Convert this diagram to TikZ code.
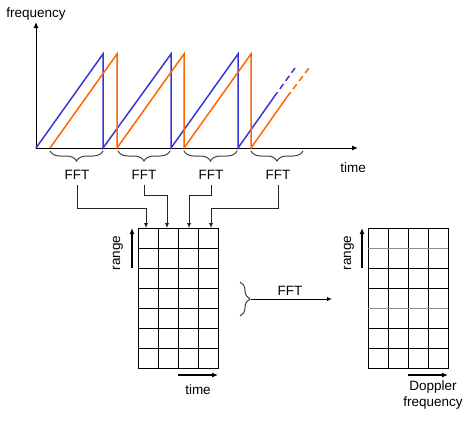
\documentclass[tikz,border=0pt]{standalone}
\usepackage{fontspec}
\setmainfont{Liberation Sans}
\usetikzlibrary{arrows.meta,decorations.pathreplacing}
\definecolor{chirpblue}{RGB}{55,55,215}
\definecolor{chirporange}{RGB}{255,102,0}
\tikzset{
  lbl/.style={font=\fontsize{13.5}{15}\selectfont, inner sep=0pt},
  axisline/.style={line width=1pt, -{Latex[length=6pt,width=5pt]}},
  blueline/.style={chirpblue, line width=1.5pt},
  orangeline/.style={chirporange, line width=1.5pt},
  brc/.style={black!75, line width=1pt, decoration={brace, amplitude=10pt, raise=0pt}, decorate},
  conn/.style={black!85, line width=0.9pt, -{Latex[length=5pt,width=4.5pt]}},
  gridline/.style={line width=1pt},
  dirarrow/.style={line width=1.2pt, -{Latex[length=6pt,width=5pt]}}
}
\begin{document}
\begin{tikzpicture}[x=1pt,y=-1pt]
\useasboundingbox (0,0) rectangle (470,423);
% axes
\coordinate (o) at (36,148);
\draw[axisline] (o) -- (36,22);
\draw[axisline] (o) -- (358,148);
\node[lbl] (flab) at (36,14) {frequency};
\node[lbl] (tlab) at (353,168) {time};
% chirps blue
\draw[blueline] (36,148) -- (103,54) -- (103,148) -- (171,54) -- (171,148) -- (238,54) -- (238,148) -- (274,97);
\draw[blueline, dash pattern=on 6pt off 4pt] (274,97) -- (295,68);
% chirps orange
\draw[orangeline] (50,148) -- (117,54) -- (117,148) -- (184,54) -- (184,148) -- (251,54) -- (251,148) -- (287,97);
\draw[orangeline, dash pattern=on 6pt off 4pt] (287,97) -- (309,68);
% braces
\draw[brc] (103,151) -- (50,151);
\draw[brc] (170,151) -- (118,151);
\draw[brc] (237,151) -- (184,151);
\draw[brc] (303,151) -- (251,151);
% FFT labels
\node[lbl] (fft1) at (77,175) {FFT};
\node[lbl] (fft2) at (144,175) {FFT};
\node[lbl] (fft3) at (211,175) {FFT};
\node[lbl] (fft4) at (278,175) {FFT};
% grid 1
\foreach \k in {0,...,4} {\draw[gridline] ({138+\k*20},228) -- ({138+\k*20},369);}
\foreach \i in {0,...,7} {\draw[gridline] (138,{228+\i*20.14}) -- (218,{228+\i*20.14});}
\coordinate (g1a) at (146,228);
\coordinate (g1b) at (167,228);
\coordinate (g1c) at (189,228);
\coordinate (g1d) at (211,228);
% connectors
\draw[conn] (fft1.south) ++(0,5) |- (146,208) -- (g1a);
\draw[conn] (fft2.south) ++(0,5) |- (167,195) -- (g1b);
\draw[conn] (fft3.south) ++(0,5) |- (189,195) -- (g1c);
\draw[conn] (fft4.south) ++(0,5) |- (211,208) -- (g1d);
% range label 1
\node[lbl, rotate=90] (r1) at (118,253) {range};
\draw[dirarrow] (132,268) -- (132,228);
\coordinate (t1s) at (178,375);
\coordinate (t1e) at (218,375);
\draw[dirarrow] (t1s) -- (t1e);
\node[lbl] (time2) at (198,390) {time};
% middle brace and FFT
\draw[brc] (240,282) -- (240,316);
\coordinate (bt) at (251,299);
\coordinate (g2in) at (332,299);
\draw[conn, black, line width=1pt] (bt) -- (g2in);
\node[lbl] (fftm) at (290,291) {FFT};
% grid 2
\foreach \k in {0,...,4} {\draw[gridline] ({368+\k*20},228) -- ({368+\k*20},369);}
\foreach \i in {0,2,3,5,6,7} {\draw[gridline] (368,{228+\i*20.14}) -- (448,{228+\i*20.14});}
\foreach \i in {1,4} {\draw[gridline, black!45] (368,{228+\i*20.14}) -- (448,{228+\i*20.14});}
\node[lbl, rotate=90] (r2) at (349,253) {range};
\draw[dirarrow] (362,268) -- (362,228);
\draw[dirarrow] (408,375) -- (448,375);
\node[lbl] (dop) at (433,387) {Doppler};
\node[lbl] (dopf) at (433,403) {frequency};
\end{tikzpicture}
\end{document}
